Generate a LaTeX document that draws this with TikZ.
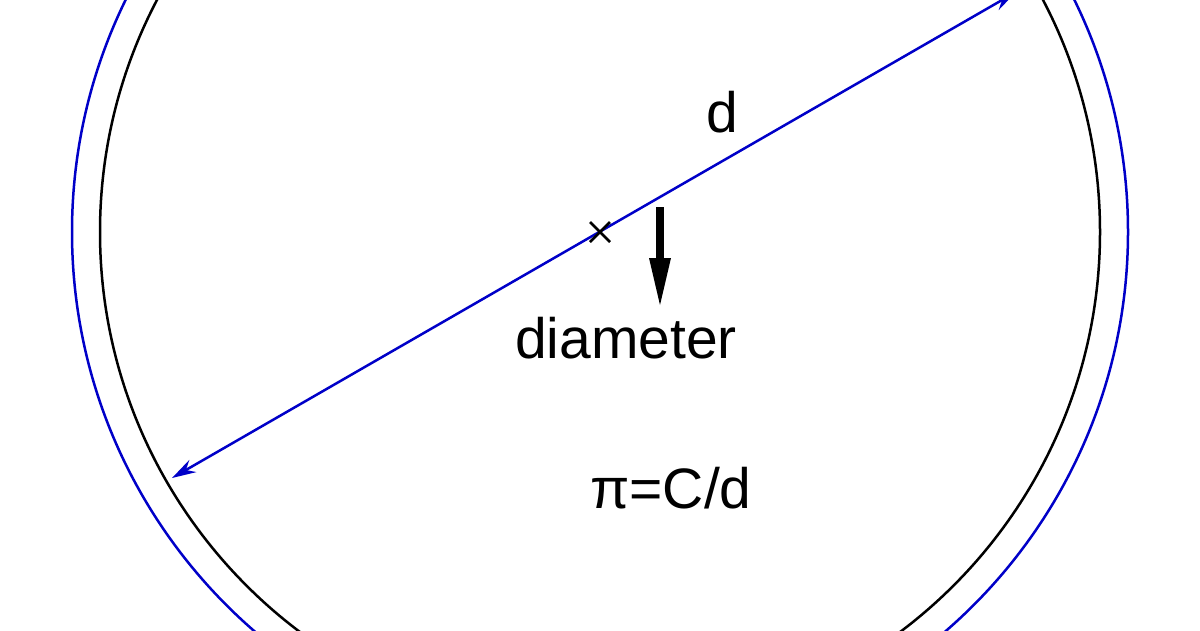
\documentclass[tikz,border=0pt]{standalone}
\usepackage{fontspec}
\setmainfont{Liberation Sans}
\usetikzlibrary{arrows.meta}
\definecolor{dblue}{RGB}{0,0,200}
\tikzset{lbl/.style={font=\fontsize{57}{64}\selectfont, inner sep=0pt}}
\begin{document}
\begin{tikzpicture}[x=1pt,y=-1pt]
\useasboundingbox (0,0) rectangle (1200,630);
\clip (0,0) rectangle (1200,630);
\fill[white] (0,0) rectangle (1200,630);
\coordinate (c) at (600,232);
\draw[black, line width=2.5pt] (c) circle[radius=500];
\draw[dblue, line width=2.5pt] (c) circle[radius=528];
\coordinate (p1) at (172,478);
\coordinate (p2) at (1016,-8);
\draw[dblue, line width=2.5pt, {Stealth[length=24pt,width=14pt,inset=8pt]}-{Stealth[length=24pt,width=14pt,inset=8pt]}] (p1) -- (p2);
\draw[line width=2.5pt] (590,222) -- (610,242) (590,242) -- (610,222);
\coordinate (a2) at (660,305);
\fill (656,207) rectangle (664,258);
\fill (649,258) -- (671,258) -- (a2) -- cycle;
\node[lbl] (d) at (722,112) {d};
\node[lbl] (diam) at (626,338) {diameter};
\node[lbl] (pi) at (671,488) {π=C/d};
\end{tikzpicture}
\end{document}
